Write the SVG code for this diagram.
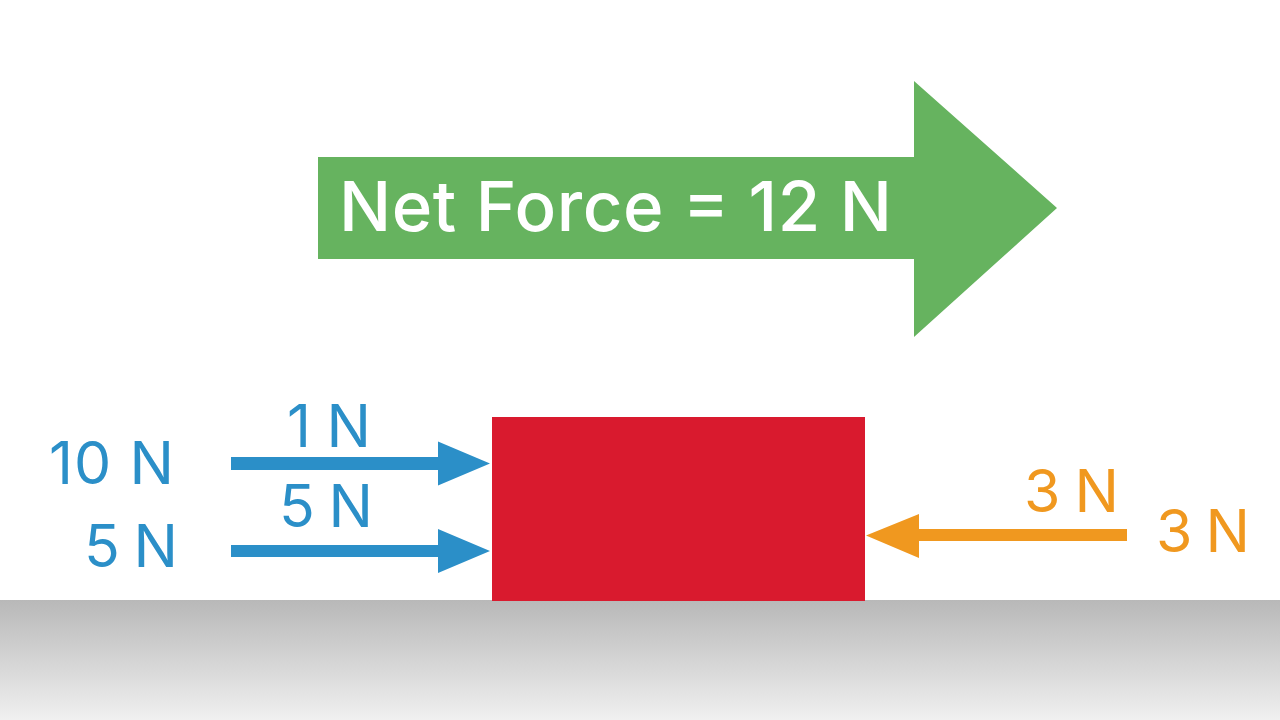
<svg xmlns="http://www.w3.org/2000/svg" width="1280" height="720" viewBox="0 0 1280 720">
<style>
text{font-family:"Inter","Open Sans","Liberation Sans",sans-serif}
.b{fill:#2b8fc8}.o{fill:#f0981f}
.l{font-size:59px;font-weight:400}
</style>
<defs><linearGradient id="g" x1="0" y1="0" x2="0" y2="1"><stop offset="0" stop-color="#b8b8b8"/><stop offset="1" stop-color="#f0f0f0"/></linearGradient></defs>
<rect width="1280" height="720" fill="#fff"/>
<rect id="ground" x="0" y="600" width="1280" height="120" fill="url(#g)"/>
<g id="block"><rect x="492" y="417" width="373" height="184" fill="#d91a2e"/></g>
<g id="net-force"><polygon points="318,157 914,157 914,81 1057,208 914,337 914,259 318,259" fill="#66b35f"/>
<text x="339" y="231" font-size="69" font-weight="500" fill="#fff" textLength="553" lengthAdjust="spacing">Net Force = 12 N</text></g>
<g id="connectors">
<polygon class="b" points="231,457 438,457 438,441.500 490,463.500 438,485.500 438,470 231,470"/>
<polygon class="b" points="231,545 438,545 438,529 490,551 438,573 438,557 231,557"/>
<polygon class="o" points="1127,529 919,529 919,514 866,535.500 919,558 919,541 1127,541"/>
</g>
<g id="labels">
<text class="l b" x="49" y="484" textLength="125" lengthAdjust="spacing">10 N</text>
<text class="l b" x="84" y="567" textLength="94" lengthAdjust="spacing">5 N</text>
<text class="l b" x="287" y="447" textLength="84" lengthAdjust="spacing">1 N</text>
<text class="l b" x="279" y="527" textLength="94" lengthAdjust="spacing">5 N</text>
<text class="l o" x="1024" y="512" textLength="95" lengthAdjust="spacing">3 N</text>
<text class="l o" x="1156" y="552" textLength="94" lengthAdjust="spacing">3 N</text>
</g>
</svg>
